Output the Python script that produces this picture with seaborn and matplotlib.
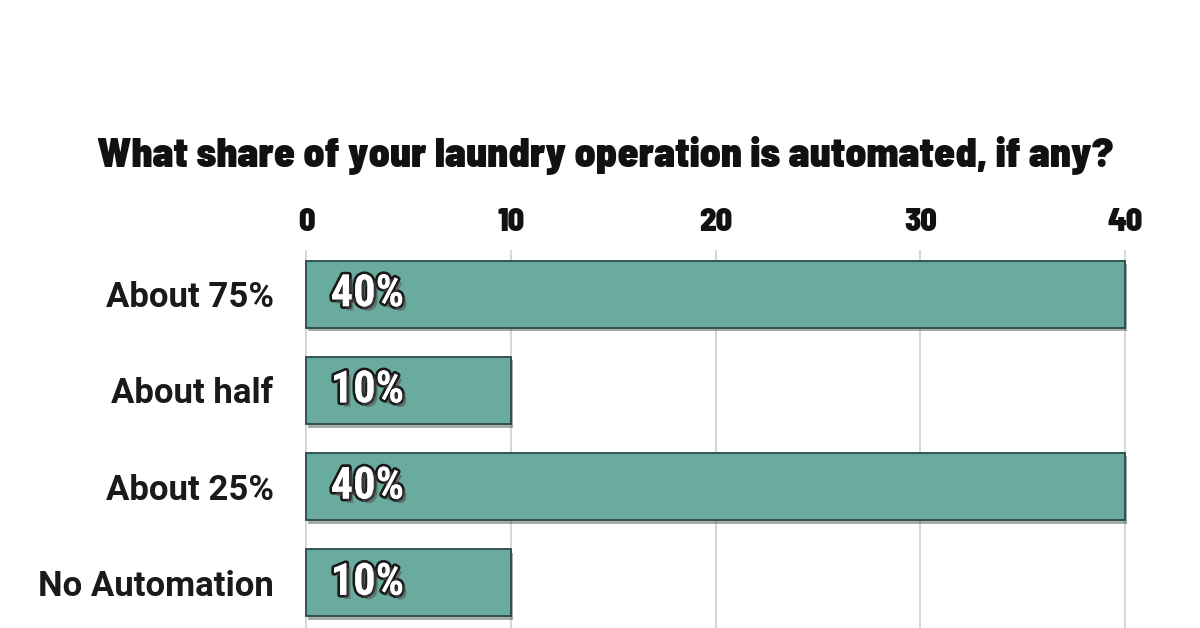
import matplotlib
matplotlib.use("Agg")
import matplotlib.pyplot as plt
import matplotlib.patheffects as pe
import seaborn as sns
import pandas as pd

categories = ["About 75%", "About half", "About 25%", "No Automation"]
shares = [40, 10, 40, 10]
bar_labels = ["40%", "10%", "40%", "10%"]
ticks = [0, 10, 20, 30, 40]
title = "What share of your laundry operation is automated, if any?"

df = pd.DataFrame({"answer": categories, "share": shares})

sns.set_theme(style="white")
plt.rcParams["font.family"] = ["Roboto", "DejaVu Sans"]

heavy = ["Barlow Semi Condensed", "DejaVu Sans"]
narrow = ["Roboto Condensed", "DejaVu Sans"]

fig = plt.figure(figsize=(12, 6.28), dpi=100)
ax = fig.add_axes([0.25, 0.0, 0.708, 0.602])

sns.barplot(data=df, x="share", y="answer", orient="h", color="#6aab9f",
            saturation=1, width=0.7, edgecolor="#2a4b45", linewidth=1.3,
            ax=ax, zorder=3)
for p in ax.patches:
    p.set_path_effects([pe.SimplePatchShadow(offset=(1.5, -2.5), alpha=0.4),
                        pe.Normal()])

for i, lab in enumerate(bar_labels):
    ax.text(1.2, i, lab, ha="left", va="center", fontsize=32,
            family=narrow, fontweight="bold", color="white", zorder=5,
            path_effects=[pe.withStroke(linewidth=4, foreground="#1a1a1a"),
                          pe.SimplePatchShadow(offset=(3, -3), alpha=0.55),
                          pe.Normal()])

ax.set_xlim(-0.3, 41.2)
ax.set_ylim(3.47, -0.46)
ax.set_xticks(ticks)
ax.xaxis.tick_top()
ax.tick_params(axis="x", length=0, pad=9, labelsize=23)
ax.tick_params(axis="y", length=0, pad=19, labelsize=25)
for t in ax.get_xticklabels():
    t.set_family(heavy)
    t.set_fontweight(900)
    t.set_color("#111111")
for t in ax.get_yticklabels():
    t.set_fontweight("bold")
    t.set_color("#1a1a1a")
ax.grid(axis="x", color="#d0d0d0", linewidth=1.2, zorder=0)
ax.set_xlabel("")
ax.set_ylabel("")
for s in ax.spines.values():
    s.set_visible(False)

fig.text(0.504, 0.752, title, ha="center", va="center", fontsize=30,
         family=heavy, fontweight=900, color="#111111")

fig.savefig("out.png", dpi=100)
